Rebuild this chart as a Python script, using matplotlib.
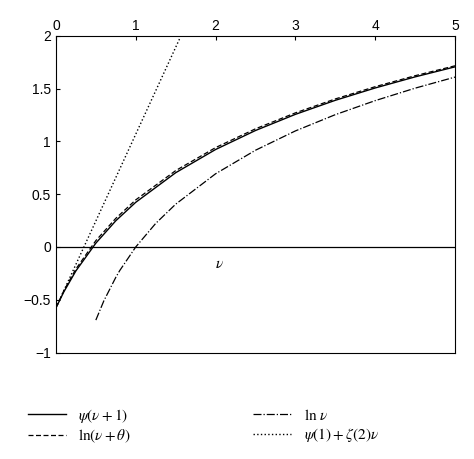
import matplotlib
matplotlib.use("Agg")
import matplotlib.pyplot as plt
from matplotlib.lines import Line2D

plt.rcParams['font.family'] = ['Liberation Sans', 'DejaVu Sans']
plt.rcParams['mathtext.fontset'] = 'stix'

nu = [0, 0.1, 0.25, 0.5, 0.75, 1, 1.5, 2, 2.5, 3, 3.5, 4, 4.5, 5]
psi = [-0.577, -0.424, -0.227, 0.036, 0.248, 0.423, 0.703, 0.923, 1.103, 1.256, 1.389, 1.506, 1.611, 1.706]
lnth = [-0.577, -0.413, -0.209, 0.060, 0.271, 0.446, 0.723, 0.941, 1.119, 1.270, 1.402, 1.518, 1.622, 1.716]
nu_ln = [0.5, 0.6, 0.75, 0.8, 1, 1.25, 1.5, 2, 2.5, 3, 3.5, 4, 4.5, 5]
lnv = [-0.693, -0.511, -0.288, -0.223, 0.0, 0.223, 0.405, 0.693, 0.916, 1.099, 1.253, 1.386, 1.504, 1.609]
nu_lin = [0, 1.55]
lin = [-0.577, 1.973]

fig = plt.figure(figsize=(4.74, 4.59), dpi=100)
ax = fig.add_axes([0.118, 0.232, 0.842, 0.69])
ax.plot(nu, psi, 'k-', lw=1.0)
ax.plot(nu, lnth, 'k--', lw=0.9, dashes=(4, 2))
ax.plot(nu_ln, lnv, 'k-.', lw=0.9)
ax.plot(nu_lin, lin, 'k:', lw=1.0)
ax.axhline(0, color='k', lw=0.9)
ax.text(2.05, -0.1, r'$\nu$', ha='center', va='top', fontsize=11)
ax.set_xlim(0, 5)
ax.set_ylim(-1, 2)
ax.set_xticks([0, 1, 2, 3, 4, 5])
ax.set_yticks([-1, -0.5, 0, 0.5, 1, 1.5, 2])
ax.set_yticklabels(['−1', '−0.5', '0', '0.5', '1', '1.5', '2'])
ax.xaxis.tick_top()
ax.tick_params(direction='in', labelsize=10, length=3)
ax.tick_params(axis='x', labelsize=10, pad=2)

handles = [Line2D([], [], color='k', ls='-', lw=1.0),
           Line2D([], [], color='k', ls='--', lw=0.9, dashes=(4, 2)),
           Line2D([], [], color='k', ls='-.', lw=0.9),
           Line2D([], [], color='k', ls=':', lw=1.0)]
labels = [r'$\psi(\nu+1)$', r'$\ln(\nu+\theta)$', r'$\ln\,\nu$', r'$\psi(1)+\zeta(2)\nu$']
fig.legend(handles, labels,
           loc='lower left', bbox_to_anchor=(0.03, 0.0), ncol=2, frameon=False,
           fontsize=11, columnspacing=8, handlelength=2.5, labelspacing=0.2)
fig.savefig('out.png', dpi=100)
